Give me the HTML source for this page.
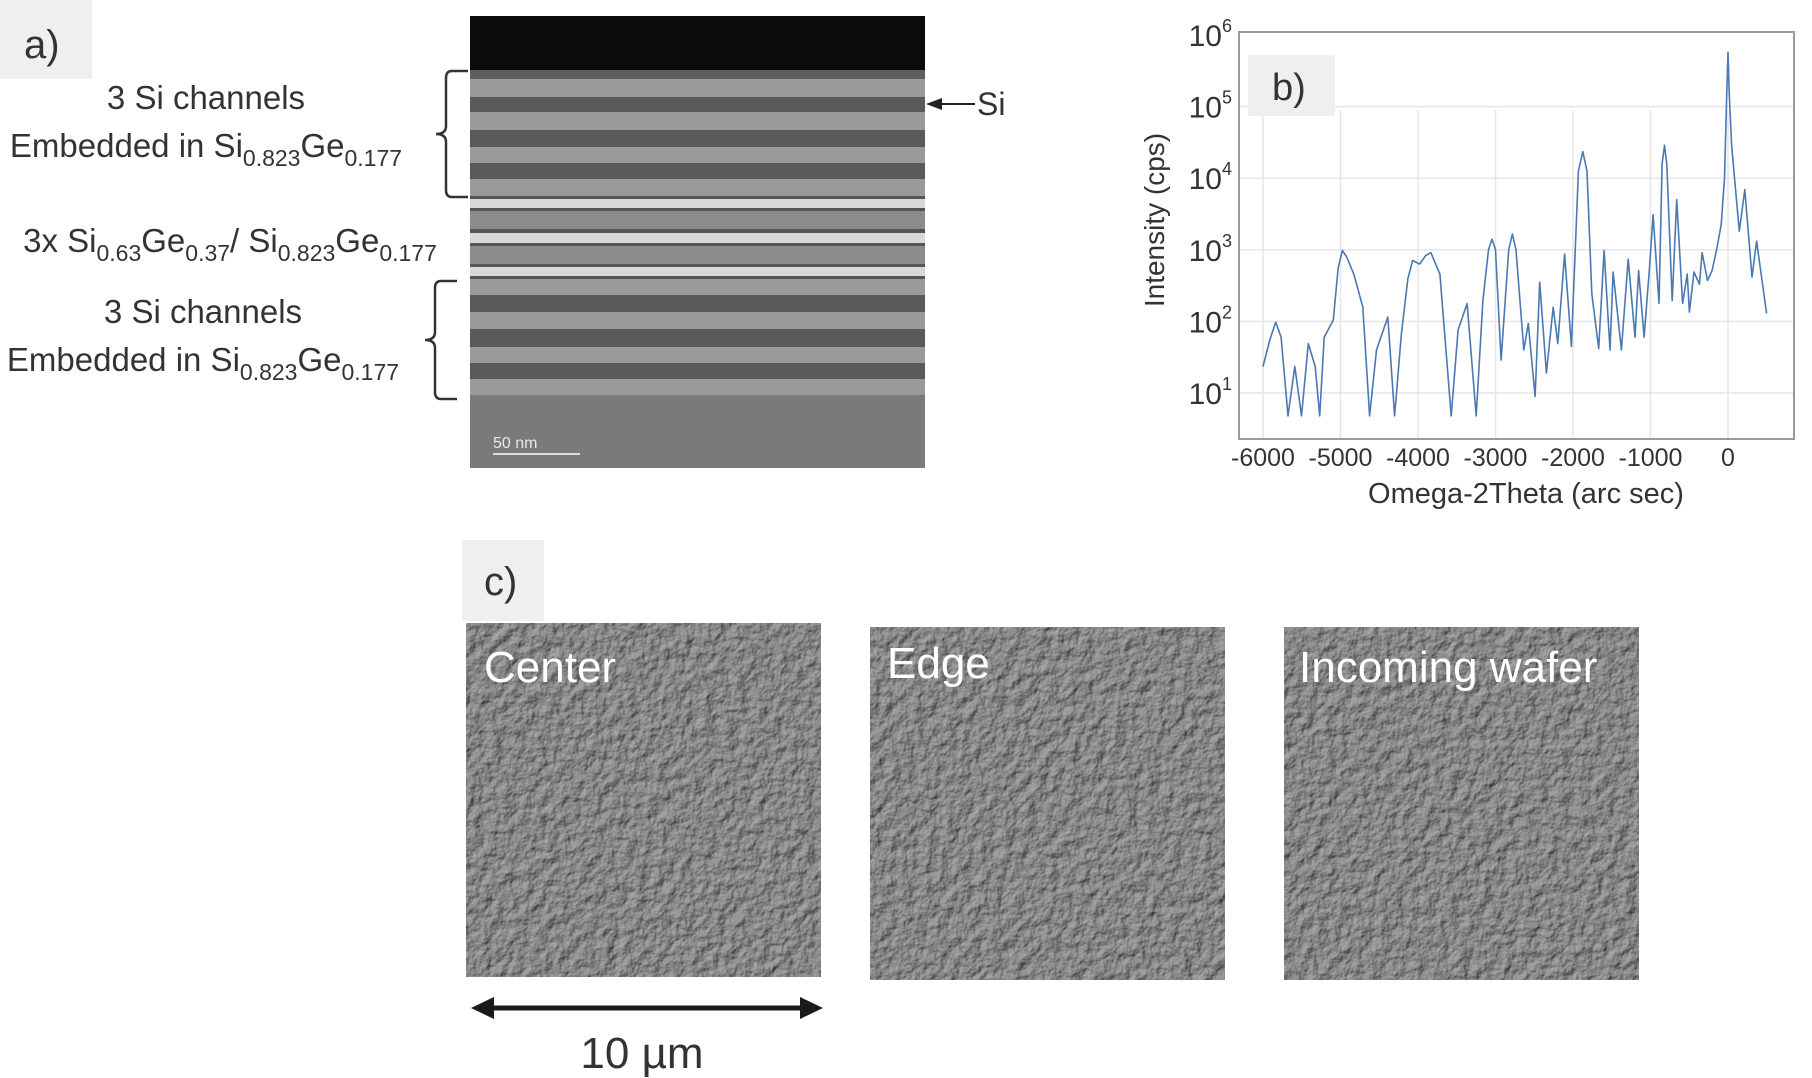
<!DOCTYPE html>
<html><head><meta charset="utf-8"><style>
html,body{margin:0;padding:0;background:#fff;}
svg{display:block;font-family:"Liberation Sans",sans-serif;}
</style></head><body>
<svg id="fig" width="1812" height="1078" viewBox="0 0 1812 1078" xmlns="http://www.w3.org/2000/svg">
<defs>
<filter id="afm" x="0" y="0" width="100%" height="100%" color-interpolation-filters="sRGB">
<feTurbulence type="fractalNoise" baseFrequency="0.09" numOctaves="3" seed="4" result="n"/>
<feDiffuseLighting in="n" surfaceScale="2.4" lighting-color="#a6a6a6" diffuseConstant="1" result="l"><feDistantLight azimuth="225" elevation="55"/></feDiffuseLighting>
<feComposite in="l" in2="SourceGraphic" operator="in"/>
</filter>
</defs>

<!-- Panel a -->
<g>
<rect x="0" y="0" width="92" height="79" fill="#efefef"/>
<text x="24" y="58" font-size="40" fill="#333">a)</text>
<g font-size="33" fill="#333" text-anchor="middle">
<text x="206" y="109">3 Si channels</text>
<text x="206" y="157">Embedded in Si<tspan font-size="23" dy="9">0.823</tspan><tspan dy="-9">Ge</tspan><tspan font-size="23" dy="9">0.177</tspan></text>
<text x="230" y="252">3x Si<tspan font-size="23" dy="9">0.63</tspan><tspan dy="-9">Ge</tspan><tspan font-size="23" dy="9">0.37</tspan><tspan dy="-9">/ Si</tspan><tspan font-size="23" dy="9">0.823</tspan><tspan dy="-9">Ge</tspan><tspan font-size="23" dy="9">0.177</tspan></text>
<text x="203" y="323">3 Si channels</text>
<text x="203" y="371">Embedded in Si<tspan font-size="23" dy="9">0.823</tspan><tspan dy="-9">Ge</tspan><tspan font-size="23" dy="9">0.177</tspan></text>
</g>
<path d="M468,71 L452,71 Q446,71 446,78 L446,126 Q446,134 436,134 Q446,134 446,142 L446,190 Q446,197 452,197 L468,197" fill="none" stroke="#333" stroke-width="2.5"/>
<path d="M457,281 L441,281 Q435,281 435,288 L435,332 Q435,340 425,340 Q435,340 435,348 L435,392 Q435,399 441,399 L457,399" fill="none" stroke="#333" stroke-width="2.5"/>
<g id="tem"></g>
<text x="493" y="448" font-size="16" fill="#e8e8e8">50 nm</text>
<line x1="493" y1="454" x2="580" y2="454" stroke="#ddd" stroke-width="2"/>
<line x1="975" y1="104" x2="940" y2="104" stroke="#222" stroke-width="2"/>
<polygon points="926,104 942,98 942,110" fill="#222"/>
<text x="977" y="115" font-size="32" fill="#333">Si</text>
</g>

<!-- Panel b -->
<g id="chart"></g>

<!-- Panel c -->
<g>
<rect x="462" y="540" width="82" height="81" fill="#efefef"/>
<text x="484" y="595" font-size="40" fill="#333">c)</text>
<rect x="466" y="623" width="355" height="354" fill="#8a8a8a" filter="url(#afm)"/>
<rect x="870" y="627" width="355" height="353" fill="#8a8a8a" filter="url(#afm)"/>
<rect x="1284" y="627" width="355" height="353" fill="#8a8a8a" filter="url(#afm)"/>
<g font-size="44" fill="#fff">
<text x="484" y="682">Center</text>
<text x="887" y="678">Edge</text>
<text x="1299" y="682">Incoming wafer</text>
</g>
<line x1="490" y1="1008" x2="805" y2="1008" stroke="#1a1a1a" stroke-width="5"/>
<polygon points="471,1008 494,997 494,1019" fill="#1a1a1a"/>
<polygon points="823,1008 800,997 800,1019" fill="#1a1a1a"/>
<text x="642" y="1068" font-size="44" fill="#333" text-anchor="middle">10 µm</text>
</g>
</svg>
<script>
// TEM layer stack
const temLayers = [[16,70,'#0b0b0b'],[70,79,'#5e5e5e'],[79,97,'#9a9a9a'],[97,112,'#5a5a5a'],[112,130,'#9a9a9a'],[130,147,'#5a5a5a'],[147,163,'#9a9a9a'],[163,179,'#5a5a5a'],[179,196,'#9a9a9a'],[196,199,'#555'],[199,208,'#d8d8d8'],[208,211,'#555'],[211,229,'#8c8c8c'],[229,233,'#555'],[233,243,'#d8d8d8'],[243,246,'#555'],[246,264,'#8c8c8c'],[264,267,'#555'],[267,276,'#d8d8d8'],[276,279,'#555'],[279,295,'#9a9a9a'],[295,312,'#5a5a5a'],[312,329,'#9a9a9a'],[329,347,'#5a5a5a'],[347,363,'#9a9a9a'],[363,379,'#5a5a5a'],[379,395,'#9a9a9a'],[395,468,'#7a7a7a']];
const NS='http://www.w3.org/2000/svg';
const tem=document.getElementById('tem');
temLayers.forEach(l=>{
  const r=document.createElementNS(NS,'rect');
  r.setAttribute('x',470);r.setAttribute('y',l[0]);r.setAttribute('width',455);r.setAttribute('height',l[1]-l[0]);r.setAttribute('fill',l[2]);
  
  
  tem.appendChild(r);
});

// XRD data
const xValues = [-6000,-5912,-5836,-5766,-5678,-5590,-5503,-5415,-5327,-5269,-5210,-5093,-5030,-4976,-4920,-4829,-4712,-4624,-4536,-4390,-4302,-4214,-4130,-4068,-3980,-3900,-3834,-3717,-3571,-3483,-3366,-3249,-3162,-3090,-3045,-3000,-2928,-2830,-2782,-2735,-2635,-2577,-2489,-2430,-2343,-2255,-2196,-2108,-2021,-1930,-1874,-1820,-1757,-1669,-1599,-1523,-1482,-1376,-1288,-1200,-1154,-1083,-1013,-966,-890,-850,-820,-790,-720,-662,-586,-527,-498,-439,-369,-334,-264,-205,-146,-88,-45,-15,0,15,47,146,217,310,369,498];
const logIntensity = [1.37,1.74,1.99,1.78,0.68,1.37,0.68,1.69,1.37,0.68,1.78,2.02,2.75,2.99,2.9,2.66,2.20,0.68,1.60,2.06,0.68,1.83,2.6,2.85,2.80,2.92,2.96,2.66,0.68,1.88,2.25,0.68,2.29,3.0,3.15,3.0,1.46,3.0,3.22,3.0,1.60,1.97,0.95,2.55,1.28,2.20,1.69,2.94,1.65,4.1,4.37,4.1,2.39,1.62,2.99,1.60,2.69,1.60,2.87,1.78,2.71,1.78,2.75,3.49,2.25,4.2,4.46,4.2,2.29,3.70,2.25,2.66,2.13,2.69,2.52,2.96,2.57,2.71,3.01,3.35,4.0,5.2,5.76,5.2,4.46,3.26,3.84,2.62,3.12,2.11];
const xTicks = [-6000,-5000,-4000,-3000,-2000,-1000,0];
const xTickLabels = ['-6000','-5000','-4000','-3000','-2000','-1000','0'];
const yTicks = [1,2,3,4,5,6];
const yTickLabels = ['1','2','3','4','5','6'];

const X=v=>1728+v*0.0775;
const Y=l=>35+(6-l)*71.6;
const ch=document.getElementById('chart');
function mk(tag,attrs,name,parent){
  const e=document.createElementNS(NS,tag);
  for(const k in attrs)e.setAttribute(k,attrs[k]);
  
  
  (parent||ch).appendChild(e);return e;
}
mk('rect',{x:1239,y:32,width:555,height:407,fill:'#fff',stroke:'#9a9a9a','stroke-width':2},'plot-area');
yTicks.slice(0,5).forEach(t=>mk('line',{x1:1240,x2:1793,y1:Y(t),y2:Y(t),stroke:'#e6e6e6','stroke-width':1.5},'y-gridline'));
xTicks.forEach(t=>mk('line',{x1:X(t),x2:X(t),y1:110,y2:438,stroke:'#e6e6e6','stroke-width':1.5},'x-gridline'));
mk('rect',{x:1248,y:55,width:87,height:61,fill:'#efefef'},'panel-b-label-box');
const bl=mk('text',{x:1272,y:100,'font-size':38,fill:'#333'},'panel-b-label');bl.textContent='b)';
let d='';
xValues.forEach((v,i)=>{d+=(i?'L':'M')+X(v).toFixed(1)+','+Y(logIntensity[i]).toFixed(1);});
mk('path',{d:d,fill:'none',stroke:'#4a78b4','stroke-width':1.6,'stroke-linejoin':'round'},'xrd-series');
yTicks.forEach((t,i)=>{
  const tx=mk('text',{x:1232,y:Y(t)+11,'font-size':30,fill:'#333','text-anchor':'end'},'y-tick-label');
  tx.innerHTML='10<tspan font-size="18" dy="-14">'+yTickLabels[i]+'</tspan>';
});
xTicks.forEach((t,i)=>{
  const tx=mk('text',{x:X(t),y:466,'font-size':25,fill:'#333','text-anchor':'middle'},'x-tick-label');
  tx.textContent=xTickLabels[i];
});
const xt=mk('text',{x:1526,y:503,'font-size':29,fill:'#333','text-anchor':'middle'},'x-axis-title');xt.textContent='Omega-2Theta (arc sec)';
const yt=mk('text',{x:0,y:0,'font-size':28,fill:'#333','text-anchor':'middle',transform:'translate(1164,220) rotate(-90)'},'y-axis-title');yt.textContent='Intensity (cps)';
</script>
</body></html>
